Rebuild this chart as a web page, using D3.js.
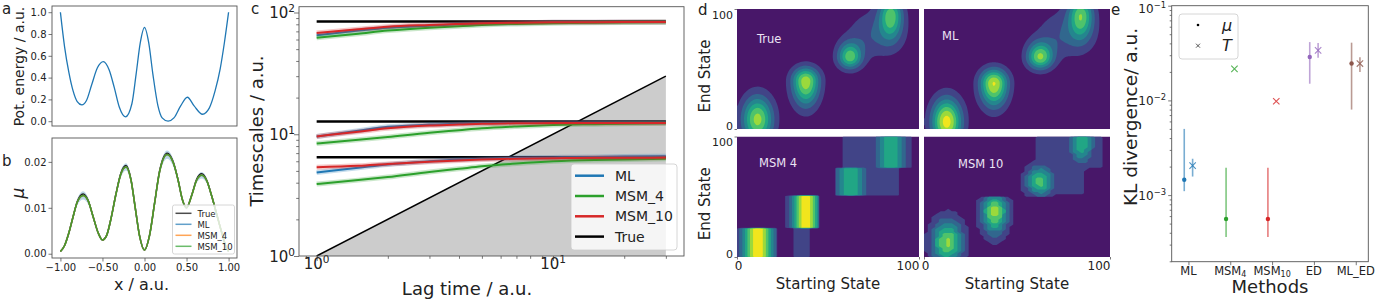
<!DOCTYPE html>
<html>
<head>
<meta charset="utf-8">
<script src="https://cdn.jsdelivr.net/npm/d3@7"></script>
<style>
  body { margin: 0; background: #fff; }
  svg { display: block; font-family: "DejaVu Sans", sans-serif; }
</style>
</head>
<body>
<svg id="fig" width="1376" height="304"></svg>
<script>
// ---------------- data ----------------
// a: potential energy
const potX = [-1.00,-0.95,-0.90,-0.85,-0.80,-0.745,-0.69,-0.63,-0.56,-0.49,-0.42,-0.36,-0.30,-0.226,-0.15,-0.10,-0.05,0.00,0.05,0.10,0.16,0.21,0.28,0.35,0.43,0.51,0.59,0.69,0.77,0.84,0.90,0.95,1.00];
const potV = [1.00,0.68,0.45,0.28,0.18,0.15,0.19,0.33,0.49,0.547,0.47,0.31,0.13,0.04,0.16,0.43,0.72,0.86,0.72,0.43,0.14,0.03,0.00,0.03,0.14,0.22,0.14,0.064,0.12,0.28,0.48,0.72,1.00];

// b: stationary distribution mu
const muX     = [-1.00,-0.95,-0.90,-0.85,-0.80,-0.73,-0.67,-0.61,-0.55,-0.50,-0.45,-0.40,-0.34,-0.28,-0.22,-0.16,-0.11,-0.06,0.00,0.06,0.12,0.18,0.27,0.34,0.40,0.45,0.50,0.56,0.62,0.68,0.74,0.80,0.86,0.92,0.97,1.00];
const muTrue  = [0.0005,0.0018,0.0045,0.0080,0.0113,0.0130,0.0116,0.0080,0.0045,0.0030,0.0040,0.0075,0.0130,0.0176,0.0192,0.0161,0.0100,0.0040,0.0008,0.0040,0.0110,0.0181,0.0219,0.0201,0.0160,0.0118,0.0100,0.0127,0.0162,0.0174,0.0160,0.0125,0.0085,0.0045,0.0015,0.0005];
const muModel = [0.0005,0.0018,0.0045,0.0080,0.0112,0.0127,0.0115,0.0080,0.0045,0.0030,0.0040,0.0075,0.0129,0.0174,0.0189,0.0160,0.0100,0.0040,0.0008,0.0040,0.0110,0.0179,0.0216,0.0199,0.0160,0.0118,0.0100,0.0126,0.0160,0.0171,0.0159,0.0125,0.0085,0.0045,0.0015,0.0005];
const muSpread = [0.0001,0.0002,0.0003,0.0005,0.0007,0.0009,0.0007,0.0005,0.0003,0.0002,0.0003,0.0005,0.0007,0.0008,0.0008,0.0007,0.0005,0.0003,0.0001,0.0003,0.0005,0.0007,0.0009,0.0008,0.0006,0.0004,0.0003,0.0004,0.0006,0.0007,0.0006,0.0005,0.0004,0.0003,0.0002,0.0001];

// c: implied timescales vs lag time
const lagTimes = [1, 1.5, 2, 3, 4, 5, 7, 10, 15, 20, 30];
const tsTrue = [84.2, 12.7, 6.47];
const tsML = [
  [65, 71, 75, 78, 80, 81, 82, 83, 83.3, 83.5, 83.6],
  [9.6, 10.7, 11.5, 12.0, 12.2, 12.3, 12.4, 12.45, 12.5, 12.5, 12.5],
  [4.85, 5.3, 5.65, 6.0, 6.2, 6.3, 6.4, 6.45, 6.5, 6.55, 6.6]
];
const tsMSM4 = [
  [62, 67, 71, 75, 77, 79, 80.5, 81.5, 82.3, 82.8, 83.3],
  [8.4, 9.0, 9.5, 10.3, 10.8, 11.2, 11.6, 11.9, 12.1, 12.2, 12.3],
  [3.9, 4.2, 4.45, 4.9, 5.2, 5.45, 5.75, 6.0, 6.15, 6.2, 6.3]
];
const tsMSM10 = [
  [68, 73, 76.5, 79, 80.5, 81.5, 82.5, 83, 83.3, 83.5, 83.6],
  [9.6, 10.5, 11.2, 11.8, 12.0, 12.2, 12.3, 12.4, 12.4, 12.4, 12.4],
  [5.35, 5.5, 5.7, 5.95, 6.1, 6.2, 6.3, 6.35, 6.4, 6.4, 6.45]
];
const lagDiag = [1, 30];

// d: transition densities, start state x end state (0..100), in contour-level units
// blobs: [cx, cy, sx, syBelow, syAbove, amp, boxX0, boxX1, boxY0, boxY1]
const blobsTrue = [
  [11.3, 8, 5.9, 13.5, 13.5, 6.2],
  [37.8, 40, 5.3, 14.5, 8, 6.5],
  [62, 60, 4.7, 7, 8.5, 5.3],
  [84.6, 95, 4.5, 13.5, 10, 5.0],
  [76, 78, 11, 13, 15, 1.7]
];
const blobsML = [
  [12.2, 6, 5.6, 13.5, 13.5, 7.3],
  [37.6, 38, 5.3, 13.5, 8.5, 6.9],
  [62.4, 60, 4.9, 7.2, 8.5, 5.8],
  [84.4, 95, 4.6, 13.5, 10, 5.2],
  [76, 78, 11, 13, 15, 1.7]
];
const blobsMSM10 = [
  [12.5, 12, 6.0, 12.5, 13.5, 6.0, 0, 100, 0, 100],
  [38, 38, 5.0, 13.5, 10, 6.3, 0, 100, 0, 50],
  [62.5, 62, 5.5, 8, 10, 5.3, 0, 100, 50, 100],
  [84.6, 95, 4.8, 12.5, 10, 4.8, 0, 100, 0, 100]
];
const platesMSM10 = [[61, 96, 75, 100, 1.5], [55, 85, 53, 75, 1.5]];
// MSM 4 blocks: [x0, x1, y0, y1, cx, sx, amp]
const blocksMSM4 = [
  [0, 22, 0, 24.3, 11.5, 6.1, 7.5],
  [26, 45.3, 24.3, 50.5, 37.8, 5.4, 7.5],
  [54, 72.6, 50.8, 74.3, 62.5, 6.2, 4.6],
  [76, 96, 74.3, 100, 84.5, 6.0, 4.6]
];
const platesMSM4 = [[31.4, 39.9, 0, 24.3, 1.5], [57.6, 96, 74.3, 100, 1.5], [72.6, 88.7, 50.8, 74.3, 1.5]];
const levelsD = [0.8, 1.8, 2.8, 3.8, 4.8, 5.8, 6.8];

// e: KL divergences
const methods = ["ML", "MSM4", "MSM10", "ED", "ML_ED"];
const klMu   = [1.45e-3, 5.6e-4, 5.6e-4, 0.0287, 0.0245];
const klMuLo = [1.1e-3, 3.6e-4, 3.6e-4, 0.0150, 0.0080];
const klMuHi = [5.0e-3, 1.95e-3, 1.95e-3, 0.0413, 0.0407];
const klT    = [2.05e-3, 0.0215, 0.0098, 0.0337, 0.0245];
const klTLo  = [1.57e-3, null, null, 0.0282, 0.0200];
const klTHi  = [2.42e-3, null, null, 0.0403, 0.0286];

// ---------------- helpers ----------------
const svg = d3.select("#fig");
const ink = "#222";
const spine = "#555";
const cBlue = "#1f77b4", cOrange = "#ff7f0e", cGreen = "#2ca02c", cRed = "#d62728", cPurple = "#9467bd", cBrown = "#8c564b";

function text(x, y, s, size, opts = {}) {
  const t = svg.append("text").attr("x", x).attr("y", y).attr("font-size", size)
    .attr("fill", opts.fill || ink).attr("text-anchor", opts.anchor || "start").text(s);
  if (opts.rotate) t.attr("transform", `rotate(-90,${x},${y})`);
  if (opts.italic) t.attr("font-style", "italic");
  return t;
}

function frame(x, y) {
  const [x0, x1] = x.range(), [y1, y0] = y.range();
  svg.append("rect").attr("x", x0).attr("y", y0).attr("width", x1 - x0).attr("height", y1 - y0)
    .attr("fill", "none").attr("stroke", spine).attr("stroke-width", 0.9);
}

function styleAxis(g, size) {
  g.select(".domain").remove();
  g.selectAll("line").attr("stroke", spine).attr("stroke-width", 0.8);
  g.selectAll("text").attr("font-size", size).attr("fill", ink).attr("font-family", "DejaVu Sans");
  return g;
}

function powLabel(x, y, exp, size, anchor) {
  const t = svg.append("text").attr("x", x).attr("y", y).attr("font-size", size)
    .attr("fill", ink).attr("text-anchor", anchor);
  t.append("tspan").text("10");
  t.append("tspan").attr("dy", -size * 0.38).attr("font-size", size * 0.7).text(exp);
}

function logTicks(scale, axisFn, pos, majLen, minLen) {
  const all = scale.ticks();
  const major = all.filter(v => Math.abs(Math.log10(v) - Math.round(Math.log10(v))) < 1e-9);
  const minor = all.filter(v => !major.includes(v));
  styleAxis(svg.append("g").attr("transform", pos)
    .call(axisFn(scale).tickValues(minor).tickFormat("").tickSize(minLen)), 10);
  styleAxis(svg.append("g").attr("transform", pos)
    .call(axisFn(scale).tickValues(major).tickFormat("").tickSize(majLen)), 10);
  return major;
}

// ---------------- panel a ----------------
const xA = d3.scaleLinear([-1.1, 1.1], [52, 237]);
const yA = d3.scaleLinear([-0.044, 1.057], [126, 6]);
styleAxis(svg.append("g").attr("transform", "translate(52,0)")
  .call(d3.axisLeft(yA).tickValues([0, 0.2, 0.4, 0.6, 0.8, 1.0]).tickFormat(d3.format(".1f")).tickSize(3.5).tickPadding(2)), 10);
svg.append("path").datum(potX.map((x, i) => [x, potV[i]]))
  .attr("fill", "none").attr("stroke", cBlue).attr("stroke-width", 1.3)
  .attr("d", d3.line().x(d => xA(d[0])).y(d => yA(d[1])).curve(d3.curveMonotoneX));
frame(xA, yA);
text(24, 66.5, "Pot. energy / a.u.", 14, { anchor: "middle", rotate: true });
text(2, 14, "a", 15);

// ---------------- panel b ----------------
const xB = d3.scaleLinear([-1.1, 1.1], [52, 237]);
const yB = d3.scaleLinear([-0.00093, 0.0252], [258, 138]);
styleAxis(svg.append("g").attr("transform", "translate(52,0)")
  .call(d3.axisLeft(yB).tickValues([0, 0.01, 0.02]).tickFormat(d3.format(".2f")).tickSize(3.5).tickPadding(2)), 10);
styleAxis(svg.append("g").attr("transform", "translate(0,258)")
  .call(d3.axisBottom(xB).tickValues([-1, -0.5, 0, 0.5, 1]).tickFormat(d => d3.format(".2f")(d).replace("-", "\u2212")).tickSize(3.5).tickPadding(2)), 10);
const muPts = muX.map((x, i) => ({ x, t: muTrue[i], m: muModel[i], s: muSpread[i] }));
svg.append("path").datum(muPts).attr("fill", cBlue).attr("fill-opacity", 0.3)
  .attr("d", d3.area().x(d => xB(d.x)).y0(d => yB(d.m - d.s)).y1(d => yB(d.m + d.s)).curve(d3.curveMonotoneX));
const muLine = key => d3.line().x(d => xB(d.x)).y(d => yB(d[key])).curve(d3.curveMonotoneX);
[["t", "#000"], ["m", cBlue], ["m", cOrange], ["m", cGreen]].forEach(([k, c]) => {
  svg.append("path").datum(muPts).attr("fill", "none").attr("stroke", c).attr("stroke-width", 1.5)
    .attr("stroke-opacity", 0.85).attr("d", muLine(k));
});
frame(xB, yB);
// legend b
svg.append("rect").attr("x", 172.5).attr("y", 205).attr("width", 62).attr("height", 49).attr("rx", 2)
  .attr("fill", "#fff").attr("fill-opacity", 0.8).attr("stroke", "#ccc").attr("stroke-width", 0.8);
[["True", "#000"], ["ML", cBlue], ["MSM_4", cOrange], ["MSM_10", cGreen]].forEach(([n, c], i) => {
  const y = 213.3 + i * 11;
  svg.append("line").attr("x1", 175.5).attr("x2", 191.5).attr("y1", y).attr("y2", y)
    .attr("stroke", c).attr("stroke-width", 1.5).attr("stroke-opacity", 0.7);
  text(197.5, y + 3.2, n, 8.5);
});
text(24, 193, "\u03bc", 17, { anchor: "middle", rotate: true, italic: true });
text(141.5, 290, "x / a.u.", 16, { anchor: "middle" });
text(2, 166, "b", 15);

// ---------------- panel c ----------------
const xC = d3.scaleLog([0.842, 35.8], [299, 684]);
const yC = d3.scaleLog([1, 111.6], [256, 6.7]);
svg.append("path").datum([[lagDiag[0], lagDiag[0]], [lagDiag[1], lagDiag[1]], [lagDiag[1], 1]])
  .attr("fill", "#cccccc").attr("d", d3.line().x(d => xC(d[0])).y(d => yC(d[1])));
svg.append("path").datum(lagDiag).attr("fill", "none").attr("stroke", "#000").attr("stroke-width", 1.5)
  .attr("d", d3.line().x(d => xC(d)).y(d => yC(d)));
tsTrue.forEach(v => {
  svg.append("path").datum([lagTimes[0], lagTimes[lagTimes.length - 1]]).attr("fill", "none")
    .attr("stroke", "#000").attr("stroke-width", 2.5)
    .attr("d", d3.line().x(d => xC(d)).y(() => yC(v)));
});
const tsLine = d3.line().x((d, i) => xC(lagTimes[i])).y(d => yC(d)).curve(d3.curveMonotoneX);
[[tsML, cBlue], [tsMSM4, cGreen], [tsMSM10, cRed]].forEach(([series, c]) => {
  series.forEach(s => {
    svg.append("path").datum(s).attr("fill", "none").attr("stroke", c).attr("stroke-width", 5)
      .attr("stroke-opacity", 0.25).attr("d", tsLine);
    svg.append("path").datum(s).attr("fill", "none").attr("stroke", c).attr("stroke-width", 2)
      .attr("d", tsLine);
  });
});
const majYC = logTicks(yC, d3.axisLeft, "translate(299,0)", 5, 2.8);
majYC.forEach(v => powLabel(295, yC(v) + 5.5, String(Math.round(Math.log10(v))), 15, "end"));
const majXC = logTicks(xC, d3.axisBottom, "translate(0,256)", 5, 2.8);
majXC.forEach(v => powLabel(xC(v), 269, String(Math.round(Math.log10(v))), 15, "middle"));
frame(xC, yC);
// legend c
svg.append("rect").attr("x", 571).attr("y", 164).attr("width", 106).attr("height", 86).attr("rx", 3)
  .attr("fill", "#fff").attr("fill-opacity", 0.8).attr("stroke", "#ccc").attr("stroke-width", 0.8);
[["ML", cBlue], ["MSM_4", cGreen], ["MSM_10", cRed], ["True", "#000"]].forEach(([n, c], i) => {
  const y = 175.7 + i * 20.3;
  svg.append("line").attr("x1", 575).attr("x2", 604).attr("y1", y).attr("y2", y)
    .attr("stroke", c).attr("stroke-width", 2.5);
  text(615, y + 5, n, 14);
});
text(263, 131, "Timescales / a.u.", 18, { anchor: "middle", rotate: true });
text(467, 295, "Lag time / a.u.", 18, { anchor: "middle" });
text(251, 14, "c", 15);

// ---------------- panel d ----------------
function blobField(blobs, plates, n) {
  const step = 100 / n, vals = new Array(n * n);
  for (let j = 0; j < n; j++) for (let i = 0; i < n; i++) {
    const x = (i + 0.5) * step, y = (j + 0.5) * step;
    let v = 0;
    for (const [cx, cy, sx, syLo, syHi, a, bx0 = 0, bx1 = 100, by0 = 0, by1 = 100] of blobs) {
      if (x < bx0 || x > bx1 || y < by0 || y > by1) continue;
      const sy = y < cy ? syLo : syHi;
      v += a * Math.exp(-((x - cx) ** 2 / (2 * sx * sx) + (y - cy) ** 2 / (2 * sy * sy)));
    }
    for (const [px0, px1, py0, py1, a] of plates)
      if (x >= px0 && x <= px1 && y >= py0 && y <= py1) v = Math.max(v, a);
    vals[i + j * n] = v;
  }
  return vals;
}
function blockField(blocks, plates, n) {
  const step = 100 / n, vals = new Array(n * n);
  for (let j = 0; j < n; j++) for (let i = 0; i < n; i++) {
    const x = (i + 0.5) * step, y = (j + 0.5) * step;
    let v = 0;
    for (const [x0, x1, y0, y1, cx, sx, a] of blocks)
      if (x >= x0 && x <= x1 && y >= y0 && y <= y1) v = Math.max(v, a * Math.exp(-((x - cx) ** 2) / (2 * sx * sx)));
    for (const [px0, px1, py0, py1, a] of plates)
      if (x >= px0 && x <= px1 && y >= py0 && y <= py1) v = Math.max(v, a);
    vals[i + j * n] = v;
  }
  return vals;
}
// contour band colours: background, then bands from slate blue to yellow
const bandIndex = v => levelsD.filter(l => l <= v).length;
const band = v => { const k = bandIndex(v); return k === 0 ? d3.interpolateViridis(0.06) : d3.interpolateViridis(0.2 + (k - 1) * 0.13); };
const defs = svg.append("defs");
const panelsD = [
  { id: "dTrue", name: "True", x0: 737, x1: 919, y0: 9, y1: 129, n: 100, smooth: true, vals: () => blobField(blobsTrue, [], 100), lx: 757, ly: 43 },
  { id: "dML", name: "ML", x0: 924, x1: 1110, y0: 9, y1: 129, n: 100, smooth: true, vals: () => blobField(blobsML, [], 100), lx: 942, ly: 40 },
  { id: "dM4", name: "MSM 4", x0: 737, x1: 919, y0: 136.5, y1: 257, n: 100, smooth: true, vals: () => blockField(blocksMSM4, platesMSM4, 100), lx: 759, ly: 166.5 },
  { id: "dM10", name: "MSM 10", x0: 924, x1: 1110, y0: 136.5, y1: 257, n: 50, smooth: false, vals: () => blobField(blobsMSM10, platesMSM10, 50), lx: 958, ly: 168 }
];
panelsD.forEach(p => {
  defs.append("clipPath").attr("id", "clip-" + p.id).append("rect")
    .attr("x", p.x0).attr("y", p.y0).attr("width", p.x1 - p.x0).attr("height", p.y1 - p.y0);
  const gx = d3.scaleLinear([0, p.n], [p.x0, p.x1]);
  const gy = d3.scaleLinear([0, p.n], [p.y1, p.y0]);
  const path = d3.geoPath(d3.geoTransform({ point(x, y) { this.stream.point(gx(x), gy(y)); } }));
  const g = svg.append("g").attr("clip-path", `url(#clip-${p.id})`);
  g.append("rect").attr("x", p.x0).attr("y", p.y0).attr("width", p.x1 - p.x0).attr("height", p.y1 - p.y0).attr("fill", band(0));
  const cs = d3.contours().size([p.n, p.n]).smooth(p.smooth).thresholds(levelsD)(p.vals());
  g.selectAll("path").data(cs).join("path").attr("d", path).attr("fill", d => band(d.value));
  text(p.lx, p.ly, p.name, 11.5, { fill: "#ece4f4" });
  p.xs = d3.scaleLinear([0, 100], [p.x0, p.x1]);
  p.ys = d3.scaleLinear([0, 100], [p.y1, p.y0]);
});
// ticks for d
[panelsD[0], panelsD[2]].forEach(p => {
  const g = styleAxis(svg.append("g").attr("transform", `translate(${p.x0},0)`)
    .call(d3.axisLeft(p.ys).tickValues([0, 100]).tickFormat(d3.format("d")).tickSize(2.5).tickPadding(1.5)), 11);
  g.selectAll(".tick text").attr("dy", d => d === 100 ? "0.85em" : "0.05em");
  text(710, (p.y0 + p.y1) / 2 + 7, "End State", 15, { anchor: "middle", rotate: true });
});
[panelsD[2], panelsD[3]].forEach(p => {
  const g = styleAxis(svg.append("g").attr("transform", `translate(0,${p.y1})`)
    .call(d3.axisBottom(p.xs).tickValues([0, 100]).tickFormat(d3.format("d")).tickSize(2.5).tickPadding(2)), 12);
  g.selectAll(".tick text").attr("text-anchor", d => d === 100 ? "end" : "middle").attr("dx", d => d === 100 ? 0 : 1);
  text((p.x0 + p.x1) / 2, 289, "Starting State", 15, { anchor: "middle" });
});
text(698, 15, "d", 15);

// ---------------- panel e ----------------
const xE = d3.scaleLinear([-0.4, 4.3], [1171.7, 1368.3]);
const yE = d3.scaleLog([1.98e-4, 0.1], [261.7, 5.7]);
const colE = [cBlue, cGreen, cRed, cPurple, cBrown];
const off = 0.1;
methods.forEach((m, i) => {
  const xm = xE(i - off), xt = xE(i + off);
  svg.append("line").attr("x1", xm).attr("x2", xm).attr("y1", yE(klMuLo[i])).attr("y2", yE(klMuHi[i]))
    .attr("stroke", colE[i]).attr("stroke-width", 1.6).attr("stroke-opacity", 0.6);
  svg.append("circle").attr("cx", xm).attr("cy", yE(klMu[i])).attr("r", 2.2).attr("fill", colE[i]);
  if (klTLo[i] !== null) {
    svg.append("line").attr("x1", xt).attr("x2", xt).attr("y1", yE(klTLo[i])).attr("y2", yE(klTHi[i]))
      .attr("stroke", colE[i]).attr("stroke-width", 1.6).attr("stroke-opacity", 0.6);
  }
  const cy = yE(klT[i]), r = 3.2;
  svg.append("path").attr("d", `M${xt - r},${cy - r}L${xt + r},${cy + r}M${xt - r},${cy + r}L${xt + r},${cy - r}`)
    .attr("stroke", colE[i]).attr("stroke-width", 1.1).attr("stroke-opacity", 0.8);
});
const majYE = logTicks(yE, d3.axisLeft, "translate(1171.7,0)", 3.5, 2);
majYE.forEach(v => powLabel(1166, Math.max(yE(v) + 4.5, 12.5), "\u2212" + Math.round(-Math.log10(v)), 12, "end"));
styleAxis(svg.append("g").attr("transform", "translate(0,261.7)")
  .call(d3.axisBottom(xE).tickValues(d3.range(methods.length)).tickFormat("").tickSize(3.5)), 12);
const tickNames = [["ML"], ["MSM", "4"], ["MSM", "10"], ["ED"], ["ML_ED"]];
tickNames.forEach(([base, sub], i) => {
  const t = svg.append("text").attr("x", xE(i)).attr("y", 275).attr("font-size", 11.5)
    .attr("fill", ink).attr("text-anchor", "middle");
  t.append("tspan").text(base);
  if (sub) t.append("tspan").attr("font-size", 8).attr("baseline-shift", "-20%").text(sub);
});
frame(xE, yE);
// legend e
svg.append("rect").attr("x", 1179).attr("y", 14).attr("width", 59).attr("height", 45).attr("rx", 3)
  .attr("fill", "#fff").attr("fill-opacity", 0.8).attr("stroke", "#ccc").attr("stroke-width", 0.8);
svg.append("circle").attr("cx", 1198).attr("cy", 25).attr("r", 1.3).attr("fill", "#000");
svg.append("path").attr("d", "M1196,43.7L1200,47.7M1196,47.7L1200,43.7").attr("stroke", "#444").attr("stroke-width", 0.9);
text(1222, 30.5, "\u03bc", 16, { italic: true });
text(1222, 51, "T", 16, { italic: true });
text(1137, 117, "KL divergence/ a.u.", 18.5, { anchor: "middle", rotate: true });
text(1270, 293, "Methods", 18, { anchor: "middle" });
text(1111, 15, "e", 15);
</script>
</body>
</html>
